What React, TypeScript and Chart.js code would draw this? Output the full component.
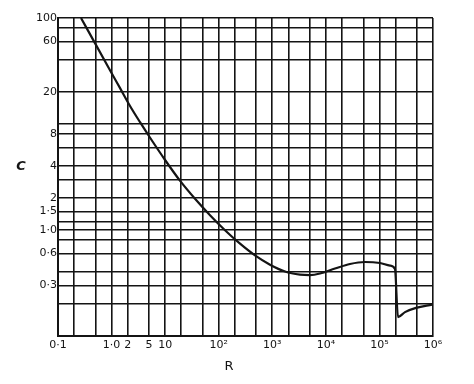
import React, { useEffect, useRef } from 'react';
import { Chart, registerables } from 'chart.js';

Chart.register(...registerables);

// Drag coefficient C versus Reynolds number R (log-log)
const reynolds = [0.269, 0.49, 0.935, 1.44, 2.21, 3.4, 5.2, 9.9, 18.9, 36.1, 68.8, 131, 250, 476, 907, 1730, 3290, 5060, 7780, 14800, 28200, 53800, 102600, 157700, 195000, 222000, 300000, 482000, 957000];
const dragCoeff = [100, 57.9, 32.2, 21.8, 14.8, 10.4, 7.46, 4.6, 2.92, 1.97, 1.38, 0.996, 0.743, 0.576, 0.471, 0.406, 0.38, 0.376, 0.389, 0.433, 0.478, 0.499, 0.488, 0.462, 0.429, 0.151, 0.168, 0.184, 0.198];

const xGridValues = [0.1, 0.2, 0.5, 1, 2, 5, 10, 20, 50, 100, 200, 500, 1e3, 2e3, 5e3, 1e4, 2e4, 5e4, 1e5, 2e5, 5e5, 1e6];
const xLabelValues = [0.1, 1, 2, 5, 10, 100, 1e3, 1e4, 1e5, 1e6];
const xLabels = ['0·1', '1·0', '2', '5', '10', '10²', '10³', '10⁴', '10⁵', '10⁶'];

const yGridValues = [0.1, 0.2, 0.3, 0.4, 0.6, 0.8, 1.0, 1.2, 1.5, 2, 3, 4, 6, 8, 10, 20, 40, 60, 80, 100];
const yLabelValues = [0.3, 0.6, 1.0, 1.5, 2, 4, 8, 20, 60, 100];
const yLabels = ['0·3', '0·6', '1·0', '1·5', '2', '4', '8', '20', '60', '100'];

const xTitle = 'R';
const yTitle = 'C';

const INK = '#141414';
const FONT = '"DejaVu Sans", sans-serif';

function labelFor(values: number[], labels: string[], v: number): string {
  const i = values.findIndex((a) => Math.abs(a - v) / a < 1e-6);
  return i >= 0 ? labels[i] : '';
}

const axisLetters = {
  id: 'axisLetters',
  afterDraw(chart: any) {
    const { ctx, chartArea } = chart;
    ctx.save();
    ctx.fillStyle = INK;
    ctx.textAlign = 'center';
    ctx.textBaseline = 'middle';
    ctx.font = 'italic bold 13px ' + FONT;
    ctx.fillText(yTitle, chartArea.left - 37, (chartArea.top + chartArea.bottom) / 2 - 10);
    ctx.font = '13px ' + FONT;
    ctx.fillText(xTitle, chartArea.left + 171, chartArea.bottom + 31);
    ctx.restore();
  },
};

export default function App() {
  const ref = useRef<HTMLCanvasElement | null>(null);

  useEffect(() => {
    document.body.style.margin = '0';
    const canvas = ref.current;
    if (!canvas) return;
    const chart = new Chart(canvas, {
      type: 'line',
      data: {
        datasets: [
          {
            data: reynolds.map((r, i) => ({ x: r, y: dragCoeff[i] })),
            borderColor: INK,
            borderWidth: 2.2,
            pointRadius: 0,
            fill: false,
            cubicInterpolationMode: 'monotone',
          },
        ],
      },
      options: {
        animation: false,
        responsive: false,
        devicePixelRatio: 1,
        layout: { padding: { top: 18, right: 41, bottom: 0, left: 0 } },
        plugins: { legend: { display: false }, tooltip: { enabled: false } },
        scales: {
          x: {
            type: 'logarithmic',
            min: 0.1,
            max: 1e6,
            afterBuildTicks: (scale: any) => {
              scale.ticks = xGridValues.map((v) => ({ value: v }));
            },
            afterFit: (scale: any) => {
              scale.height = 48;
            },
            grid: { color: INK, lineWidth: 1.6, drawTicks: false },
            border: { display: true, color: INK, width: 2 },
            ticks: {
              autoSkip: false,
              maxRotation: 0,
              padding: 3,
              color: INK,
              font: { family: FONT, size: 11 },
              callback: (v: any) => labelFor(xLabelValues, xLabels, Number(v)),
            },
          },
          y: {
            type: 'logarithmic',
            min: 0.1,
            max: 100,
            afterBuildTicks: (scale: any) => {
              scale.ticks = yGridValues.map((v) => ({ value: v }));
            },
            afterFit: (scale: any) => {
              scale.width = 58;
            },
            grid: { color: INK, lineWidth: 1.6, drawTicks: false },
            border: { display: true, color: INK, width: 2 },
            ticks: {
              autoSkip: false,
              padding: 1,
              color: INK,
              font: { family: FONT, size: 11 },
              callback: (v: any) => labelFor(yLabelValues, yLabels, Number(v)),
            },
          },
        },
      },
      plugins: [axisLetters],
    } as any);
    return () => chart.destroy();
  }, []);

  return (
    <div style={{ width: 474, height: 384, background: '#fff' }}>
      <canvas ref={ref} width={474} height={384} />
    </div>
  );
}
